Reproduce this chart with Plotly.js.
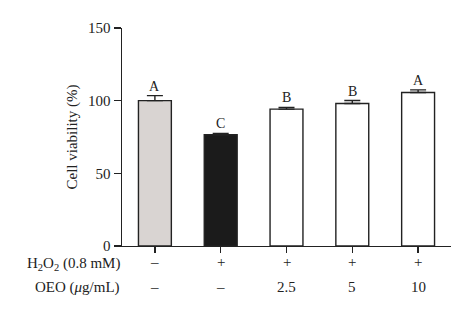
<!DOCTYPE html>
<html>
<head>
<meta charset="utf-8">
<script src="https://cdn.plot.ly/plotly-3.0.1.min.js"></script>
<style>
  html, body { margin: 0; padding: 0; background: #fff; }
  #chart { width: 474px; height: 316px; }
</style>
</head>
<body>
<div id="chart"></div>
<script>
// Groups and measured viability (mean, upper SEM)
const groups = ['ctrl', 'h2o2', 'oeo2.5', 'oeo5', 'oeo10'];
const viability = [100, 76.5, 94.2, 98.1, 105.6];
const sem = [3.5, 1.0, 1.2, 2.0, 1.8];
const sigLetters = ['A', 'C', 'B', 'B', 'A'];
const h2o2Row = ['–', '+', '+', '+', '+'];
const oeoRow = ['–', '–', '2.5', '5', '10'];
const barColors = ['#d9d4d2', '#1b1b1b', '#ffffff', '#ffffff', '#ffffff'];
const yTicks = [0, 50, 100, 150];

const ink = '#222222';
const serif = 'Liberation Serif, Times New Roman, serif';
const xIdx = groups.map((_, i) => i);

const trace = {
  type: 'bar',
  x: xIdx,
  y: viability,
  width: 0.5,
  marker: { color: barColors, line: { color: ink, width: 1.4 } },
  error_y: {
    type: 'data', symmetric: false, array: sem,
    arrayminus: sem.map(() => 0),
    color: ink, thickness: 1.4, width: 8
  },
  hoverinfo: 'skip'
};

const annotations = [];
xIdx.forEach(i => {
  annotations.push({
    x: i, y: viability[i] + sem[i], xref: 'x', yref: 'y',
    text: sigLetters[i], showarrow: false, yanchor: 'bottom', yshift: 0,
    font: { family: serif, size: 14, color: ink }
  });
  annotations.push({
    x: i, y: 0, xref: 'x', yref: 'paper',
    text: h2o2Row[i], showarrow: false, yanchor: 'middle', yshift: -16,
    font: { family: serif, size: 15, color: ink }
  });
  annotations.push({
    x: i, y: 0, xref: 'x', yref: 'paper',
    text: oeoRow[i], showarrow: false, yanchor: 'middle', yshift: -41,
    font: { family: serif, size: 15, color: ink }
  });
});
annotations.push({
  x: 0, y: 0, xref: 'paper', yref: 'paper', xanchor: 'right', xshift: 0,
  text: 'H<sub>2</sub>O<sub>2</sub> (0.8 mM)', showarrow: false, yanchor: 'top', yshift: -7,
  font: { family: serif, size: 15, color: ink }
});
annotations.push({
  x: 0, y: 0, xref: 'paper', yref: 'paper', xanchor: 'right', xshift: 0,
  text: 'OEO (<i>μ</i>g/mL)', showarrow: false, yanchor: 'middle', yshift: -41,
  font: { family: serif, size: 15, color: ink }
});

const layout = {
  width: 474, height: 316,
  margin: { l: 122, r: 23, t: 28, b: 70 },
  paper_bgcolor: '#fff', plot_bgcolor: '#fff',
  showlegend: false,
  font: { family: serif, size: 15, color: ink },
  xaxis: {
    range: [-0.5, 4.5], tickvals: xIdx, showticklabels: false,
    showgrid: false, zeroline: false, showline: true, linecolor: ink, linewidth: 1.4,
    ticks: 'outside', ticklen: 6, tickwidth: 1.4, tickcolor: ink, fixedrange: true
  },
  yaxis: {
    range: [0, 150], tickvals: yTicks,
    showgrid: false, zeroline: false, showline: true, linecolor: ink, linewidth: 1.4,
    ticks: 'outside', ticklen: 7, tickwidth: 1.4, tickcolor: ink,
    tickfont: { family: serif, size: 15, color: ink },
    title: { text: 'Cell viability (%)', font: { family: serif, size: 15, color: ink }, standoff: 7 },
    fixedrange: true
  },
  annotations: annotations
};

Plotly.newPlot('chart', [trace], layout, { staticPlot: true, displayModeBar: false });
</script>
</body>
</html>
